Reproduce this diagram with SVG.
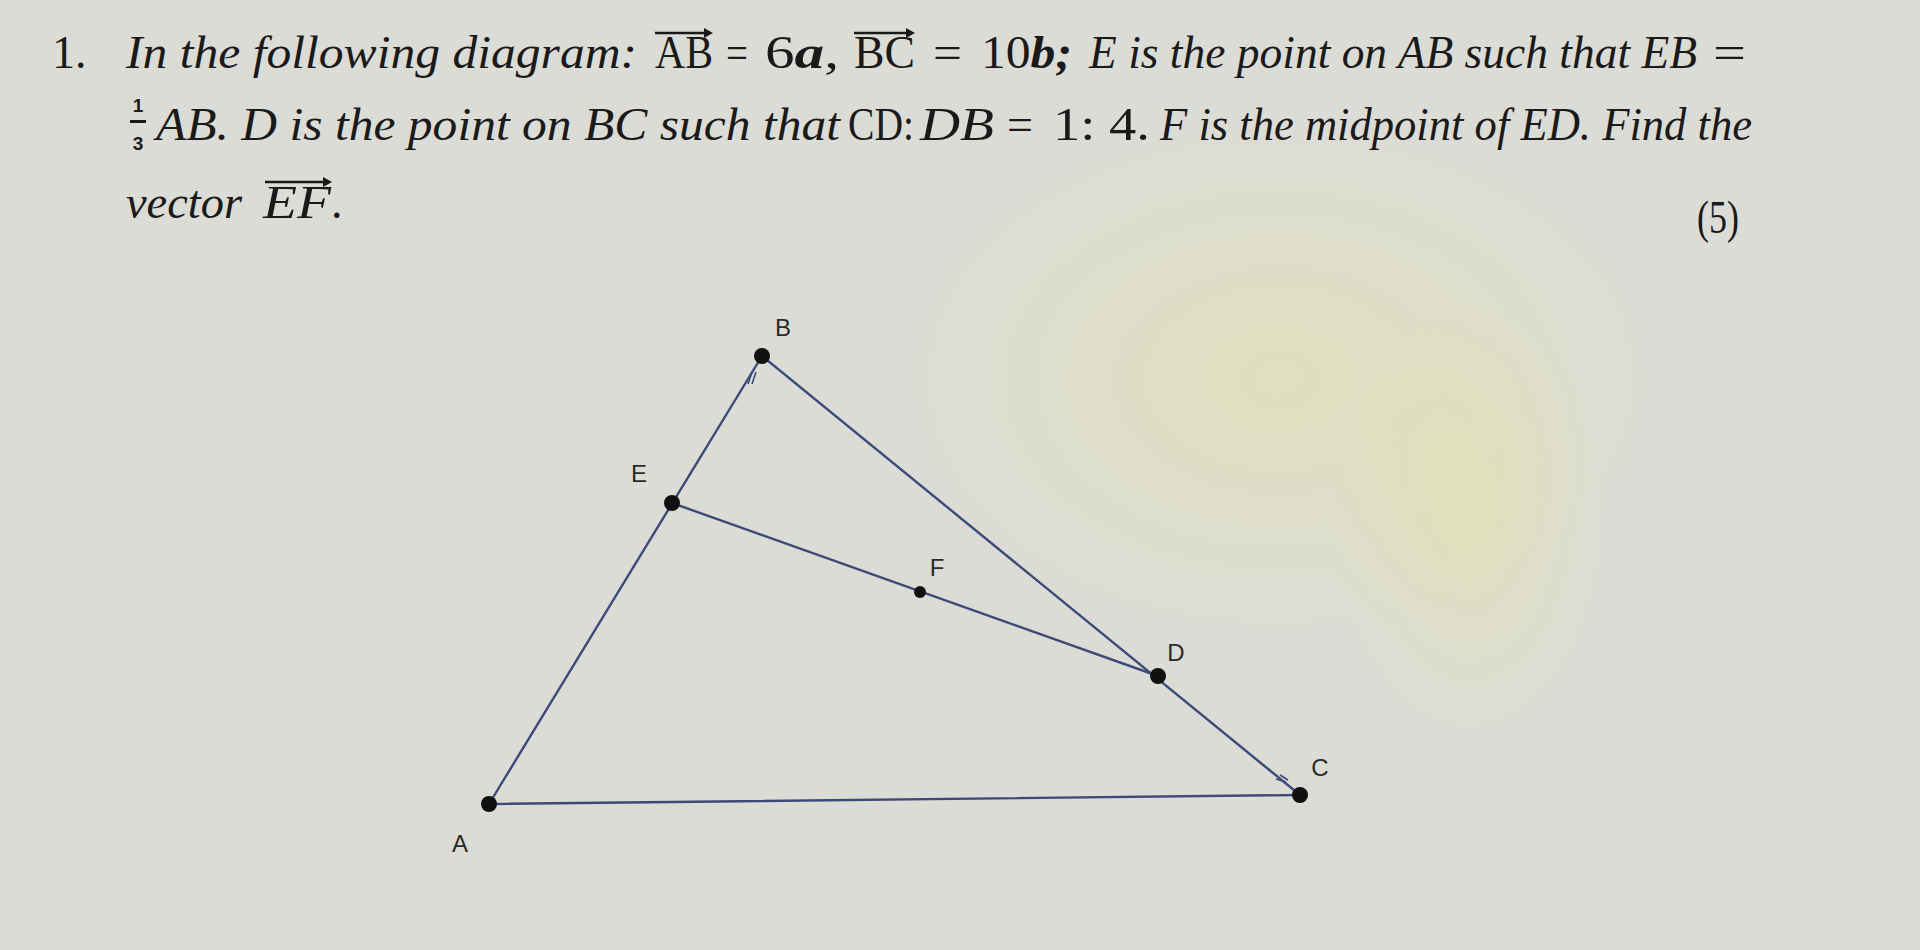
<svg xmlns="http://www.w3.org/2000/svg" width="1920" height="950" viewBox="0 0 1920 950">
<defs>
<style>
.t{font-family:"Liberation Serif","Times New Roman",serif;font-size:46px;fill:#1a1a1a}
.i{font-style:italic}
.b{font-weight:bold;font-style:italic}
.fr{font-family:"Liberation Sans",Arial,sans-serif;font-size:19px;font-weight:bold;fill:#1a1a1a}
.lbl{font-family:"Liberation Sans",Arial,sans-serif;font-size:24px;fill:#2a2a2a}
.seg{stroke:#3c4a78;stroke-width:2.4;fill:none;stroke-linecap:round}
.dot{fill:#111}
.vec{stroke:#1a1a1a;stroke-width:2.5;fill:none}
.vh{fill:#1a1a1a}
</style>
<radialGradient id="glow" cx="0.5" cy="0.5" r="0.5">
<stop offset="0" stop-color="#e6e690" stop-opacity="0.35"/>
<stop offset="1" stop-color="#e6e690" stop-opacity="0"/>
</radialGradient>
</defs>
<rect x="0" y="0" width="1920" height="950" fill="#dcdcd6"/>
<ellipse cx="1280" cy="380" rx="380" ry="260" fill="url(#glow)"/>
<ellipse cx="1470" cy="520" rx="140" ry="220" fill="url(#glow)"/>

<g id="question">
<text class="t" x="52" y="68">1.</text>
<text class="t i" x="126" y="68" textLength="511" lengthAdjust="spacingAndGlyphs">In the following diagram:</text>
<text class="t" x="655" y="68" textLength="58" lengthAdjust="spacingAndGlyphs">AB</text>
<path class="vec" d="M655 33 H710"/><path class="vh" d="M713 33 l-9 -5 v10 z"/>
<text class="t" x="726" y="68" textLength="22" lengthAdjust="spacingAndGlyphs">=</text>
<text class="t" x="765" y="68" textLength="74" lengthAdjust="spacingAndGlyphs">6<tspan class="b">a</tspan>,</text>
<text class="t" x="854" y="68" textLength="61" lengthAdjust="spacingAndGlyphs">BC</text>
<path class="vec" d="M854 33 H912"/><path class="vh" d="M915 33 l-9 -5 v10 z"/>
<text class="t" x="933" y="68" textLength="29" lengthAdjust="spacingAndGlyphs">=</text>
<text class="t" x="981" y="68" textLength="91" lengthAdjust="spacingAndGlyphs">10<tspan class="b">b;</tspan></text>
<text class="t i" x="1089" y="68" textLength="608" lengthAdjust="spacingAndGlyphs">E is the point on AB such that EB</text>
<text class="t" x="1713" y="68" textLength="33" lengthAdjust="spacingAndGlyphs">=</text>

<text class="fr" x="138" y="112" text-anchor="middle">1</text>
<rect x="130" y="120" width="16" height="3" fill="#1a1a1a"/>
<text class="fr" x="138" y="150" text-anchor="middle">3</text>
<text class="t i" x="156" y="140" textLength="684" lengthAdjust="spacingAndGlyphs">AB. D is the point on BC such that</text>
<text class="t" x="848" y="140" textLength="66" lengthAdjust="spacingAndGlyphs">CD:</text>
<text class="t i" x="920" y="140" textLength="74" lengthAdjust="spacingAndGlyphs">DB</text>
<text class="t" x="1007" y="140" textLength="26" lengthAdjust="spacingAndGlyphs">=</text>
<text class="t" x="1053" y="140" textLength="97" lengthAdjust="spacingAndGlyphs">1: 4.</text>
<text class="t i" x="1160" y="140" textLength="592" lengthAdjust="spacingAndGlyphs">F is the midpoint of ED. Find the</text>

<text class="t i" x="126" y="218" textLength="116" lengthAdjust="spacingAndGlyphs">vector</text>
<text class="t i" x="263" y="218" textLength="68" lengthAdjust="spacingAndGlyphs">EF</text>
<path class="vec" d="M265 182 H328"/><path class="vh" d="M332 182 l-9 -5 v10 z"/>
<text class="t" x="331" y="218">.</text>
<text class="t" x="1697" y="233" textLength="42" lengthAdjust="spacingAndGlyphs">(5)</text>
</g>

<g id="connectors">
<line class="seg" x1="489" y1="804" x2="762" y2="356"/>
<line class="seg" x1="762" y1="356" x2="1300" y2="795"/>
<line class="seg" x1="489" y1="804" x2="1300" y2="795"/>
<line class="seg" x1="672" y1="503" x2="1158" y2="676"/>
<path d="M748 384 l4 -12 M752 384 l4 -12" stroke="#3c4a78" stroke-width="1.6"/>
<path d="M1276 779 l10 3 M1280 775 l8 5" stroke="#3c4a78" stroke-width="1.6"/>
</g>

<g id="node-A"><circle class="dot" cx="489" cy="804" r="8"/><text class="lbl" x="460" y="852" text-anchor="middle">A</text></g>
<g id="node-B"><circle class="dot" cx="762" cy="356" r="8"/><text class="lbl" x="783" y="336" text-anchor="middle">B</text></g>
<g id="node-C"><circle class="dot" cx="1300" cy="795" r="8"/><text class="lbl" x="1320" y="776" text-anchor="middle">C</text></g>
<g id="node-D"><circle class="dot" cx="1158" cy="676" r="8"/><text class="lbl" x="1176" y="661" text-anchor="middle">D</text></g>
<g id="node-E"><circle class="dot" cx="672" cy="503" r="8"/><text class="lbl" x="639" y="482" text-anchor="middle">E</text></g>
<g id="node-F"><circle class="dot" cx="920" cy="592" r="6"/><text class="lbl" x="937" y="576" text-anchor="middle">F</text></g>
</svg>
